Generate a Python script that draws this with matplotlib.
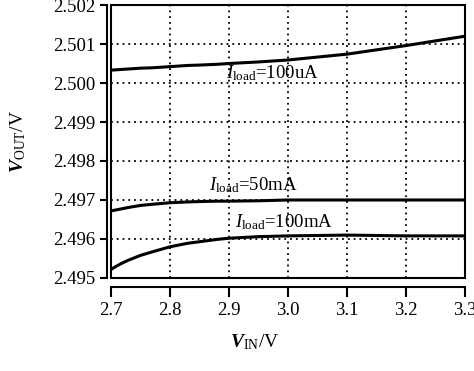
import numpy as np
import matplotlib
matplotlib.use('Agg')
import matplotlib.pyplot as plt
from matplotlib.patches import Rectangle

plt.rcParams['font.family'] = 'Liberation Serif'
plt.rcParams['mathtext.fontset'] = 'custom'
plt.rcParams['mathtext.rm'] = 'Liberation Serif'
plt.rcParams['mathtext.it'] = 'Liberation Serif:italic'
plt.rcParams['mathtext.bf'] = 'Liberation Serif:bold'
plt.rcParams['mathtext.bfit'] = 'Liberation Serif:italic:bold'

# data
vin = [2.70, 2.71, 2.72, 2.73, 2.75, 2.77, 2.80, 2.83, 2.85, 2.88, 2.90, 2.95, 3.00, 3.10, 3.20, 3.30]
vout_100uA = [2.50033, 2.50034, 2.50035, 2.50036, 2.50038, 2.50039, 2.50042, 2.50045, 2.50046, 2.50048,
              2.50050, 2.50054, 2.50059, 2.50074, 2.50096, 2.50120]
vout_50mA = [2.49672, 2.49675, 2.49678, 2.49681, 2.49686, 2.49689, 2.49693, 2.49695, 2.49696, 2.49697,
             2.49697, 2.49698, 2.49700, 2.49700, 2.49700, 2.49700]
vout_100mA = [2.49522, 2.49531, 2.49539, 2.49546, 2.49558, 2.49567, 2.49580, 2.49589, 2.49593, 2.49599,
              2.49602, 2.49606, 2.49608, 2.49610, 2.49608, 2.49608]

xticks = [2.7, 2.8, 2.9, 3.0, 3.1, 3.2, 3.3]
yticks = [2.495, 2.496, 2.497, 2.498, 2.499, 2.500, 2.501, 2.502]

fig = plt.figure(figsize=(4.74, 3.71), dpi=100)
ax = fig.add_axes([0.2342, 0.2507, 0.7468, 0.7358])

for y in (vout_100uA, vout_50mA, vout_100mA):
    ax.plot(vin, y, color='black', lw=2.2)

ax.set_xlim(2.7, 3.3)
ax.set_ylim(2.495, 2.502)
ax.set_xticks(xticks)
ax.set_xticklabels(['%.1f' % t for t in xticks])
ax.set_yticks(yticks)
ax.set_yticklabels(['%.3f' % t for t in yticks])
ax.grid(True, color='black', linestyle=(0, (1, 2.2)), lw=1.3)

# offset axis lines, plus a box around the plot
ax.spines['left'].set_position(('outward', 3))
ax.spines['bottom'].set_position(('outward', 6.5))
for s in ('top', 'right'):
    ax.spines[s].set_visible(False)
for s in ('left', 'bottom'):
    ax.spines[s].set_linewidth(1.5)
ax.add_patch(Rectangle((0, 0), 1, 1, transform=ax.transAxes, fill=False,
                       lw=1.5, clip_on=False, zorder=5))

ax.tick_params(axis='y', direction='out', length=5, width=1.5, pad=3.5, labelsize=13.5)
ax.tick_params(axis='x', direction='out', length=7, width=1.5, pad=4, labelsize=13.5)

ax.set_ylabel(r'$\mathbfit{V}_{\rm OUT}$/V', fontsize=14)
ax.yaxis.set_label_coords(-0.235, 0.5)
ax.set_xlabel(r'$\mathbfit{V}_{\rm IN}$/V', fontsize=14)
ax.xaxis.set_label_coords(0.405, -0.2)

ax.text(2.895, 2.50025, r'$I_{\rm load}$=100uA', fontsize=13.5, va='center', ha='left')
ax.text(2.866, 2.49738, r'$I_{\rm load}$=50mA', fontsize=13.5, va='center', ha='left')
ax.text(2.91, 2.49643, r'$I_{\rm load}$=100mA', fontsize=13.5, va='center', ha='left')

fig.savefig('out.png', dpi=100)
